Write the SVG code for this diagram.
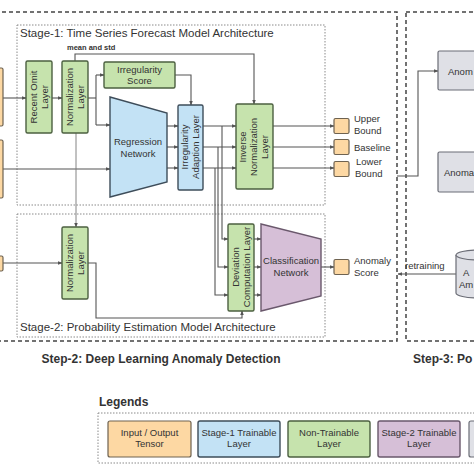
<svg xmlns="http://www.w3.org/2000/svg" width="474" height="474" viewBox="0 0 474 474">
<defs>
<marker id="ah" viewBox="0 0 10 10" refX="9" refY="5" markerWidth="4.5" markerHeight="4.5" orient="auto-start-reverse" markerUnits="userSpaceOnUse">
<path d="M0,1 L10,5 L0,9 z" fill="#555"/>
</marker>
<style>
text{font-family:"Liberation Sans",Arial,Helvetica,sans-serif;fill:#333}
.t{font-size:9.5px}
.lbl{font-size:9.5px;fill:#333}
.ttl{font-size:11.5px;fill:#333}
.bold{font-weight:bold}
.io{fill:#fdd8a3;stroke:#6e6250;stroke-width:1.2}
.s1{fill:#c3e2f5;stroke:#3e4d5a;stroke-width:1.4}
.nt{fill:#c6e3ad;stroke:#4c6040;stroke-width:1.4}
.s2{fill:#d6bfd7;stroke:#6a586c;stroke-width:1.4}
.gr{fill:#dfe0e6;stroke:#6b6d76;stroke-width:1.2}
.c{fill:none;stroke:#555;stroke-width:1.1}
.ca{fill:none;stroke:#555;stroke-width:1.1;marker-end:url(#ah)}
.step{fill:none;stroke:#444;stroke-width:1.5;stroke-dasharray:4 3}
.stage{fill:none;stroke:#8a8a8a;stroke-width:1;stroke-dasharray:1.5 1.5}
</style>
</defs>
<rect width="474" height="474" fill="#fff"/>

<!-- step boxes -->
<rect class="step" x="-5" y="12" width="402" height="329"/>
<rect class="step" x="406" y="12" width="90" height="329"/>
<rect class="stage" x="17" y="25" width="308" height="180"/>
<rect class="stage" x="17" y="214" width="308" height="123"/>
<text class="ttl" x="20" y="37">Stage-1: Time Series Forecast Model Architecture</text>
<text class="ttl" x="20" y="331">Stage-2: Probability Estimation Model Architecture</text>
<text class="bold" x="161" y="363" font-size="12" text-anchor="middle">Step-2: Deep Learning Anomaly Detection</text>
<text class="bold" x="413" y="363" font-size="12">Step-3: Po</text>
<text class="bold" x="67" y="50" font-size="7.5">mean and std</text>

<!-- connectors -->
<g id="connectors">
<path class="ca" d="M3,98 H26"/>
<path class="ca" d="M52,98 H62"/>
<path class="c" d="M88,98 H96"/>
<path class="c" d="M96,75 V125"/>
<path class="ca" d="M96,75 H104"/>
<path class="ca" d="M96,125 H110"/>
<path class="ca" d="M3,169 H110"/>
<path class="ca" d="M75,61 V54 H254 V104"/>
<path class="ca" d="M175,75 H191 V105"/>
<path class="ca" d="M167,126 H178"/>
<path class="ca" d="M167,147 H178"/>
<path class="ca" d="M167,168 H178"/>
<path class="ca" d="M203,126 H236"/>
<path class="ca" d="M203,147 H236"/>
<path class="ca" d="M203,168 H236"/>
<path class="ca" d="M273,126 H334"/>
<path class="ca" d="M273,147 H334"/>
<path class="ca" d="M273,168 H334"/>
<path class="ca" d="M222,126 V239 H228"/>
<path class="ca" d="M218,147 V267 H228"/>
<path class="ca" d="M215,168 V295 H228"/>
<path fill="none" stroke="#777" stroke-width="0.9" marker-end="url(#ah)" d="M76,133 V227"/>
<path class="ca" d="M3,263 H62"/>
<path class="ca" d="M88,263 H96 V318 H242 V311"/>
<path class="ca" d="M254,239 H261"/>
<path class="ca" d="M254,267 H261"/>
<path class="ca" d="M254,295 H261"/>
<path class="ca" d="M321,267 H334"/>
<path class="ca" d="M397,176 H418 V71 H438"/>
<path class="ca" d="M456,274 H398"/>
</g>

<!-- inputs -->
<g id="in1"><rect class="io" x="-6" y="68" width="9" height="58" rx="1.5"/></g>
<g id="in2"><rect class="io" x="-6" y="140" width="9" height="58" rx="1.5"/></g>
<g id="in3"><rect class="io" x="-6" y="256" width="9" height="15" rx="1.5"/></g>

<g id="recent-omit">
<rect class="nt" x="26" y="61" width="26" height="72" rx="1.5"/>
<g transform="translate(39,97) rotate(-90)"><text class="t" text-anchor="middle" y="-2">Recent Omit</text><text class="t" text-anchor="middle" y="9">Layer</text></g>
</g>
<g id="norm1">
<rect class="nt" x="62" y="61" width="26" height="72" rx="1.5"/>
<g transform="translate(75,97) rotate(-90)"><text class="t" text-anchor="middle" y="-2">Normalization</text><text class="t" text-anchor="middle" y="9">Layer</text></g>
</g>
<g id="irr-score">
<rect class="nt" x="104" y="62" width="71" height="26" rx="1.5"/>
<text class="t" x="139.5" y="73" text-anchor="middle">Irregularity</text>
<text class="t" x="139.5" y="84" text-anchor="middle">Score</text>
</g>
<g id="regression">
<path class="s1" d="M110,97 L167,113 L167,182 L110,197 Z"/>
<text class="t" x="138" y="145" text-anchor="middle" fill="#2e3a48">Regression</text>
<text class="t" x="138" y="157" text-anchor="middle" fill="#2e3a48">Network</text>
</g>
<g id="irr-adapt">
<rect class="s1" x="178" y="105" width="25" height="85" rx="1.5"/>
<g transform="translate(190.5,147) rotate(-90)"><text class="t" text-anchor="middle" y="-3">Irregularity</text><text class="t" text-anchor="middle" y="8">Adaption Layer</text></g>
</g>
<g id="inv-norm">
<rect class="nt" x="236" y="104" width="37" height="85" rx="1.5"/>
<g transform="translate(254.5,147) rotate(-90)"><text class="t" text-anchor="middle" y="-9">Inverse</text><text class="t" text-anchor="middle" y="2">Normalization</text><text class="t" text-anchor="middle" y="13">Layer</text></g>
</g>
<g id="out-upper">
<rect class="io" x="334" y="118.5" width="15" height="15" rx="1.5"/>
<text class="lbl" x="354" y="122">Upper</text>
<text class="lbl" x="354" y="134">Bound</text>
</g>
<g id="out-base">
<rect class="io" x="334" y="139.5" width="15" height="15" rx="1.5"/>
<text class="lbl" x="354" y="150.5">Baseline</text>
</g>
<g id="out-lower">
<rect class="io" x="334" y="161.5" width="15" height="15" rx="1.5"/>
<text class="lbl" x="356" y="165">Lower</text>
<text class="lbl" x="355" y="177">Bound</text>
</g>

<g id="norm2">
<rect class="nt" x="62" y="227" width="26" height="72" rx="1.5"/>
<g transform="translate(75,263) rotate(-90)"><text class="t" text-anchor="middle" y="-2">Normalization</text><text class="t" text-anchor="middle" y="9">Layer</text></g>
</g>
<g id="deviation">
<rect class="nt" x="228" y="224" width="26" height="87" rx="1.5"/>
<g transform="translate(241,267) rotate(-90)"><text class="t" text-anchor="middle" y="-2">Deviation</text><text class="t" text-anchor="middle" y="9">Computation Layer</text></g>
</g>
<g id="classification">
<path class="s2" d="M261,224 L321,239 L321,296 L261,311 Z"/>
<text class="t" x="291" y="264" text-anchor="middle" fill="#4b3050">Classification</text>
<text class="t" x="291" y="276" text-anchor="middle" fill="#4b3050">Network</text>
</g>
<g id="anomaly-score">
<rect class="io" x="334" y="259.5" width="15" height="15" rx="1.5"/>
<text class="lbl" x="354" y="264">Anomaly</text>
<text class="lbl" x="354" y="276">Score</text>
</g>

<g id="step3-box1">
<rect class="gr" x="438" y="51" width="50" height="39" rx="1.5"/>
<text class="lbl" x="448" y="74.5">Anom</text>
</g>
<g id="step3-box2">
<rect class="gr" x="438" y="152" width="50" height="40" rx="1.5"/>
<text class="lbl" x="444" y="175.5">Anoma</text>
</g>
<g id="step3-db">
<path class="gr" d="M456,255 V293 A22,5 0 0 0 500,293 V255"/>
<ellipse class="gr" cx="478" cy="255" rx="22" ry="5"/>
<text class="lbl" x="463" y="276">A</text>
<text class="lbl" x="459" y="288">Am</text>
</g>
<text class="lbl" x="405" y="269" font-size="10">retraining</text>

<!-- legend -->
<text class="bold" x="99" y="406" font-size="12">Legends</text>
<rect class="stage" x="98" y="413" width="390" height="50"/>
<g id="leg-io"><rect class="io" x="108" y="421" width="83" height="36" rx="2"/><text class="t" x="149.5" y="435.5" text-anchor="middle">Input / Output</text><text class="t" x="149.5" y="447" text-anchor="middle">Tensor</text></g>
<g id="leg-s1"><rect class="s1" x="198" y="421" width="82" height="36" rx="2"/><text class="t" x="239" y="435.5" text-anchor="middle">Stage-1 Trainable</text><text class="t" x="239" y="447" text-anchor="middle">Layer</text></g>
<g id="leg-nt"><rect class="nt" x="288" y="421" width="82" height="36" rx="2"/><text class="t" x="329" y="435.5" text-anchor="middle">Non-Trainable</text><text class="t" x="329" y="447" text-anchor="middle">Layer</text></g>
<g id="leg-s2"><rect class="s2" x="378" y="421" width="82" height="36" rx="2"/><text class="t" x="419" y="435.5" text-anchor="middle">Stage-2 Trainable</text><text class="t" x="419" y="447" text-anchor="middle">Layer</text></g>
<g id="leg-gr"><rect class="gr" x="469" y="421" width="30" height="36" rx="2"/></g>
</svg>
